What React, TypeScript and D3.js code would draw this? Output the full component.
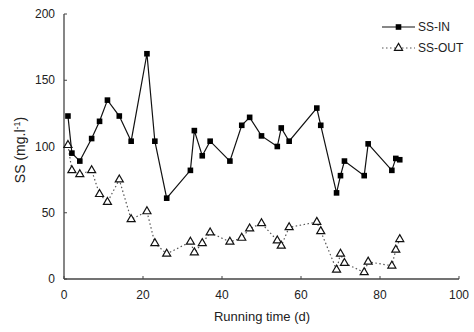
import React from "react";
import * as d3 from "d3";

const days = [1, 2, 4, 7, 9, 11, 14, 17, 21, 23, 26, 32, 33, 35, 37, 42, 45, 47, 50, 54, 55, 57, 64, 65, 69, 70, 71, 76, 77, 83, 84, 85];
const ssIn = [123, 95, 89, 106, 119, 135, 123, 104, 170, 104, 61, 82, 112, 93, 104, 89, 116, 122, 108, 100, 114, 104, 129, 116, 65, 78, 89, 78, 102, 82, 91, 90];
const ssOut = [101, 82, 79, 82, 64, 58, 75, 45, 51, 27, 19, 28, 20, 27, 35, 28, 31, 38, 42, 29, 25, 39, 43, 36, 7, 19, 12, 5, 13, 10, 22, 30];
const xTicks = [0, 20, 40, 60, 80, 100];
const yTicks = [0, 50, 100, 150, 200];

const W = 474, H = 332;
const x = d3.scaleLinear().domain([0, 100]).range([64, 459]);
const y = d3.scaleLinear().domain([0, 200]).range([279, 14]);
const font = "Liberation Sans, Arial, sans-serif";

export default function App() {
  const line = d3.line<number>().x((_, i) => x(days[i])).y((v) => y(v));
  const tri = d3.symbol().type(d3.symbolTriangle).size(28)();
  return (
    <svg width={W} height={H} style={{ position: "absolute", left: 0, top: 0 }} fontFamily={font}>
      <rect width={W} height={H} fill="#fff" />
      {/* axes */}
      <line x1={x(0)} x2={x(0)} y1={y(200)} y2={y(0)} stroke="#444" strokeWidth={1.3} />
      <line x1={x(0)} x2={x(100)} y1={y(0)} y2={y(0)} stroke="#444" strokeWidth={1.3} />
      {yTicks.map((t) => (
        <g key={"y" + t}>
          <line x1={x(0)} x2={x(0) + 3} y1={y(t)} y2={y(t)} stroke="#444" strokeWidth={1} />
          <text x={55} y={y(t)} dy="0.35em" textAnchor="end" fontSize={12} fill="#222">{t}</text>
        </g>
      ))}
      {xTicks.map((t) => (
        <g key={"x" + t}>
          <line x1={x(t)} x2={x(t)} y1={y(0)} y2={y(0) - 3} stroke="#444" strokeWidth={1} />
          <text x={x(t)} y={299} textAnchor="middle" fontSize={12} fill="#222">{t}</text>
        </g>
      ))}
      <text x={262} y={321} textAnchor="middle" fontSize={13} fill="#222">Running time (d)</text>
      <text transform="translate(25,150) rotate(-90)" textAnchor="middle" fontSize={14} fill="#222">
        SS (mg.l<tspan dy={-5} fontSize={9}>-1</tspan><tspan dy={5}>)</tspan>
      </text>
      {/* SS-OUT */}
      <path d={line(ssOut) || ""} fill="none" stroke="#555" strokeWidth={1.2} strokeDasharray="1.5,2.5" />
      {ssOut.map((v, i) => (
        <path key={"o" + i} d={tri || ""} transform={`translate(${x(days[i])},${y(v)})`} fill="#fff" stroke="#111" strokeWidth={1.2} />
      ))}
      {/* SS-IN */}
      <path d={line(ssIn) || ""} fill="none" stroke="#111" strokeWidth={1.2} />
      {ssIn.map((v, i) => (
        <rect key={"i" + i} x={x(days[i]) - 2.8} y={y(v) - 2.8} width={5.6} height={5.6} fill="#000" />
      ))}
      {/* legend */}
      <line x1={382} x2={415} y1={27} y2={27} stroke="#111" strokeWidth={1.2} />
      <rect x={398.5 - 2.8} y={27 - 2.8} width={5.6} height={5.6} fill="#000" />
      <text x={418} y={27} dy="0.35em" fontSize={12} fill="#222">SS-IN</text>
      <line x1={382} x2={415} y1={48} y2={48} stroke="#555" strokeWidth={1.2} strokeDasharray="1.5,2.5" />
      <path d={tri || ""} transform="translate(398.5,48)" fill="#fff" stroke="#111" strokeWidth={1.2} />
      <text x={418} y={48} dy="0.35em" fontSize={12} fill="#222">SS-OUT</text>
    </svg>
  );
}
